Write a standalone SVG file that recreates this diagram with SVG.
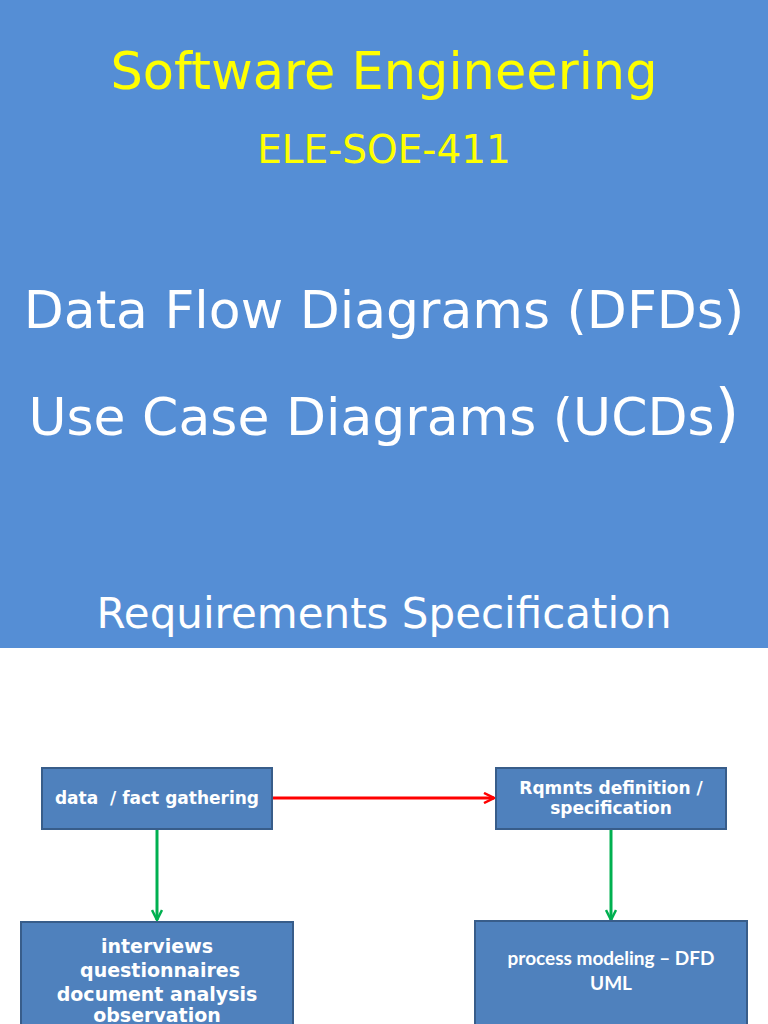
<svg xmlns="http://www.w3.org/2000/svg" width="768" height="1024" viewBox="0 0 768 1024">
<defs>
<style>
.title{font-family:"DejaVu Sans",Verdana,sans-serif;text-anchor:middle}
.y{fill:#FFFF00}
.w{fill:#FFFFFF}
.box{fill:#4F81BD;stroke:#385D8A;stroke-width:2}
.nt{font-family:"DejaVu Sans",Verdana,sans-serif;font-weight:bold;fill:#FFFFFF;text-anchor:middle}
.ct{font-family:Lato,"Open Sans",sans-serif;font-weight:bold;fill:#FFFFFF;text-anchor:middle}
.red{stroke:#FF0000;stroke-width:3;fill:none}
.green{stroke:#00B050;stroke-width:3;fill:none}
</style>
<marker id="ar" viewBox="0 0 12 12" refX="11" refY="6" markerWidth="12" markerHeight="12" markerUnits="userSpaceOnUse" orient="auto">
<path d="M1,1 L11,6 L1,11" fill="none" stroke="#FF0000" stroke-width="2.5"/>
</marker>
<marker id="ag" viewBox="0 0 12 12" refX="11" refY="6" markerWidth="12" markerHeight="12" markerUnits="userSpaceOnUse" orient="auto">
<path d="M1,1 L11,6 L1,11" fill="none" stroke="#00B050" stroke-width="2.5"/>
</marker>
</defs>
<rect x="0" y="0" width="768" height="648" fill="#558ED5"/>
<rect x="0" y="648" width="768" height="376" fill="#FFFFFF"/>
<text class="title y" x="384" y="89" font-size="51">Software Engineering</text>
<text class="title y" x="384" y="163" font-size="39">ELE-SOE-411</text>
<text class="title w" x="384" y="328" font-size="52">Data Flow Diagrams (DFDs)</text>
<text class="title w" x="384" y="435" font-size="52">Use Case Diagrams (UCDs<tspan font-size="64">)</tspan></text>
<text class="title w" x="384" y="628" font-size="42">Requirements Specification</text>
<g id="connectors">
<line class="red" x1="273" y1="798" x2="494" y2="798" marker-end="url(#ar)"/>
<line class="green" x1="157" y1="830" x2="157" y2="920" marker-end="url(#ag)"/>
<line class="green" x1="611" y1="830" x2="611" y2="920" marker-end="url(#ag)"/>
</g>
<g id="n1">
<rect class="box" x="42" y="768" width="230" height="61"/>
<text class="nt" x="157" y="804" font-size="17" xml:space="preserve">data  / fact gathering</text>
</g>
<g id="n2">
<rect class="box" x="496" y="768" width="230" height="61"/>
<text class="nt" x="611" y="794" font-size="17">Rqmnts definition /</text>
<text class="nt" x="611" y="814" font-size="17">specification</text>
</g>
<g id="n3">
<rect class="box" x="21" y="922" width="272" height="110"/>
<text class="nt" x="157" y="953" font-size="19">interviews</text>
<text class="nt" x="160" y="977" font-size="19">questionnaires</text>
<text class="nt" x="157" y="1001" font-size="19">document analysis</text>
<text class="nt" x="157" y="1022" font-size="19">observation</text>
</g>
<g id="n4">
<rect class="box" x="475" y="921" width="272" height="110"/>
<text class="ct" x="611" y="965" font-size="19">process modeling – DFD</text>
<text class="ct" x="611" y="990" font-size="19">UML</text>
</g>
</svg>
